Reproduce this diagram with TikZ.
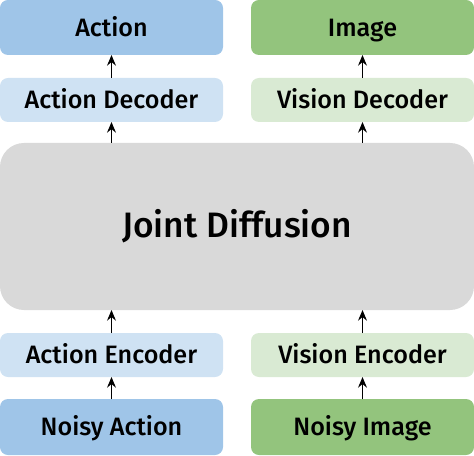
\documentclass[tikz,border=0pt]{standalone}
\usepackage{fontspec}
\setmainfont{Fira Sans}[UprightFont=* Medium]
\usepackage{tikz}
\usetikzlibrary{arrows.meta, positioning}

\definecolor{actdark}{HTML}{9FC5E8}
\definecolor{actlight}{HTML}{CFE2F3}
\definecolor{visdark}{HTML}{93C47D}
\definecolor{vislight}{HTML}{D9EAD3}
\definecolor{jointgray}{HTML}{D9D9D9}

\begin{document}
\begin{tikzpicture}[
        node distance=0.44cm and 0.56cm,
        box/.style={rectangle, rounded corners=0.16cm, minimum width=4.46cm,
                     minimum height=0.88cm, inner sep=0pt, outer sep=0pt,
                     align=center, font=\fontsize{14.3}{16}\selectfont,
                     text height=13.35pt, text depth=3.5pt,
                     fill=#1, text=black},
        box/.default=white,
        joint/.style={rectangle, rounded corners=0.48cm, minimum width=9.48cm,
                     minimum height=3.34cm, inner sep=0pt, outer sep=0pt,
                     font=\fontsize{20.1}{24}\selectfont, fill=jointgray},
        arrow/.style={-{Stealth[length=6pt, width=5pt]}, line width=1pt}
    ]
        % Nodes
        \node[joint] (joint) {Joint Diffusion};
        \node[box=actlight, anchor=south west] (actdec) at ([yshift=0.42cm]joint.north west) {Action Decoder};
        \node[box=vislight, anchor=south east] (visdec) at ([yshift=0.42cm]joint.north east) {Vision Decoder};
        \node[box=actdark, minimum height=1.1cm, above=0.46cm of actdec] (action) {Action};
        \node[box=visdark, minimum height=1.1cm, above=0.46cm of visdec] (image) {Image};
        \node[box=actlight, anchor=north west] (actenc) at ([yshift=-0.46cm]joint.south west) {Action Encoder};
        \node[box=vislight, anchor=north east] (visenc) at ([yshift=-0.46cm]joint.south east) {Vision Encoder};
        \node[box=actdark, minimum height=1.12cm, below=of actenc] (noisyact) {Noisy Action};
        \node[box=visdark, minimum height=1.12cm, below=of visenc] (noisyimg) {Noisy Image};

        % Arrows
        \draw[arrow] (noisyact) -- (actenc);
        \draw[arrow] (noisyimg) -- (visenc);
        \draw[arrow] (actenc) -- (actenc |- joint.south);
        \draw[arrow] (visenc) -- (visenc |- joint.south);
        \draw[arrow] (actdec |- joint.north) -- (actdec);
        \draw[arrow] (visdec |- joint.north) -- (visdec);
        \draw[arrow] (actdec) -- (action);
        \draw[arrow] (visdec) -- (image);
    \end{tikzpicture}
\end{document}
